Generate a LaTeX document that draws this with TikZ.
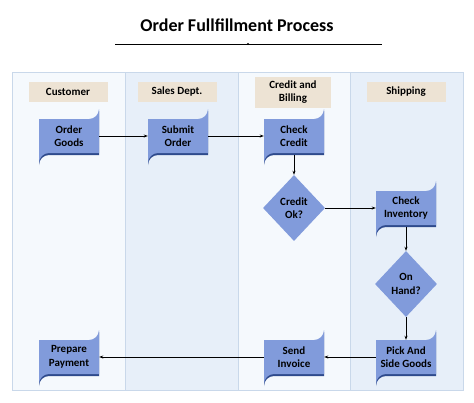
\documentclass[tikz,border=0pt]{standalone}
\usepackage{fontspec}
\setmainfont{Carlito}
\usetikzlibrary{shapes.geometric,arrows.meta}
\definecolor{procfill}{HTML}{819BDB}
\definecolor{procdark}{HTML}{2E4A8C}
\definecolor{hdr}{HTML}{EDE3D4}
\definecolor{laneA}{HTML}{F5F9FD}
\definecolor{laneB}{HTML}{E7EFF9}
\definecolor{laneline}{HTML}{C9D8EA}
\tikzset{
  x=1pt,y=-1pt,
  txt/.style={font=\bfseries\fontsize{11}{13.5}\selectfont,align=center,text=black},
  hdrbox/.style={txt,fill=hdr,minimum height=20pt},
  proc/.style={txt,minimum width=60pt,minimum height=34pt,inner sep=0pt},
  dec/.style={txt,diamond,fill=procfill,minimum width=62pt,minimum height=66pt,inner sep=0pt},
  conn/.style={-{Stealth[length=4pt,width=3pt]},line width=0.9pt}
}
\newcommand{\procshape}[2]{%
  \begin{scope}[shift={(#1,#2)}]
  \fill[procdark] (-30,-15) -- (20,-15) arc[start angle=90,end angle=0,x radius=10pt,y radius=-10pt]
     -- (30,19) -- (-20,19) arc[start angle=270,end angle=180,x radius=10pt,y radius=-10pt] -- cycle;
  \fill[procfill] (-30,-17) -- (20,-17) arc[start angle=90,end angle=0,x radius=10pt,y radius=-10pt]
     -- (30,17) -- (-20,17) arc[start angle=270,end angle=180,x radius=10pt,y radius=-10pt] -- cycle;
  \end{scope}}
\begin{document}
\begin{tikzpicture}
\useasboundingbox (0,0) rectangle (474,402);
\fill[white] (0,0) rectangle (474,402);
% title
\node[font=\bfseries\fontsize{18}{20}\selectfont] (title) at (237,25) {Order Fullfillment Process};
\draw[line width=0.6pt] (115,44) -- (382,44);
\fill (248,44) circle (1.2pt);
% lanes
\fill[laneA] (12,72) rectangle (125,390);
\fill[laneB] (125,72) rectangle (238,390);
\fill[laneA] (238,72) rectangle (350,390);
\fill[laneB] (350,72) rectangle (463,390);
\draw[laneline,line width=0.6pt] (12,72) rectangle (463,390);
\foreach \xx in {125,238,350} \draw[laneline,line width=0.6pt] (\xx,72) -- (\xx,390);
% headers
\node[hdrbox,minimum width=79pt] (h1) at (68,92) {Customer};
\node[hdrbox,minimum width=79pt] (h2) at (177,92) {Sales Dept.};
\node[hdrbox,minimum width=76pt,minimum height=31pt] (h3) at (293,92) {Credit and\\Billing};
\node[hdrbox,minimum width=79pt] (h4) at (406,92) {Shipping};
% process shapes
\procshape{69}{136}\node[proc] (og) at (69,136) {Order\\Goods};
\procshape{178}{136}\node[proc] (so) at (178,136) {Submit\\Order};
\procshape{294}{136}\node[proc] (cc) at (294,136) {Check\\Credit};
\node[dec] (ok) at (294,208) {Credit\\Ok?};
\procshape{406}{208}\node[proc] (ci) at (406,208) {Check\\Inventory};
\node[dec] (oh) at (406,284) {On\\Hand?};
\procshape{406}{357}\node[proc] (pg) at (406,357) {Pick And\\Side Goods};
\procshape{294}{357}\node[proc] (si) at (294,357) {Send\\Invoice};
\procshape{69}{357}\node[proc] (pp) at (69,357) {Prepare\\Payment};
% connectors
\draw[conn] (og.east) -- (so.west);
\draw[conn] (so.east) -- (cc.west);
\draw[conn] (cc.south) ++(0,2) -- (ok.north);
\draw[conn] (ok.east) -- (ci.west);
\draw[conn] (ci.south) ++(0,2) -- (oh.north);
\draw[conn] (oh.south) -- (pg.north);
\draw[conn] (pg.west) -- (si.east);
\draw[conn] (si.west) -- (pp.east);
\end{tikzpicture}
\end{document}
